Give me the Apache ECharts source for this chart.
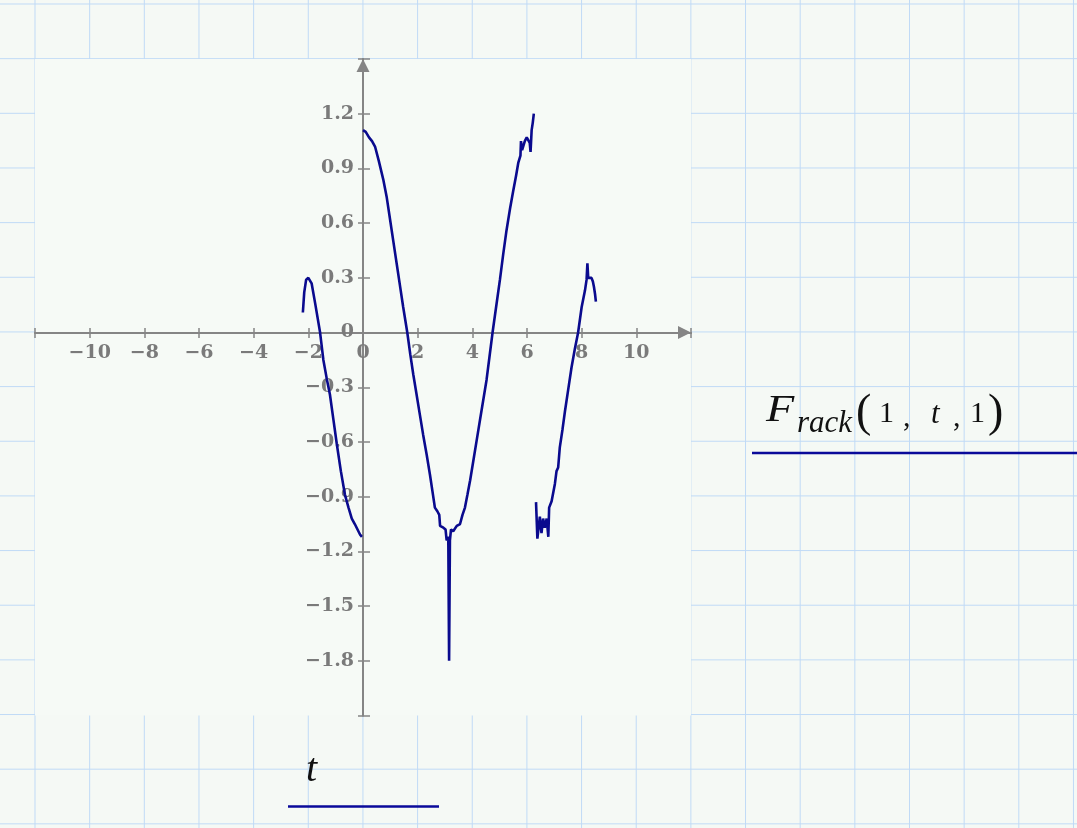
<!DOCTYPE html>
<html><head><meta charset="utf-8">
<script src="https://cdn.jsdelivr.net/npm/echarts@6/dist/echarts.min.js"></script>
<style>
html,body{margin:0;padding:0;background:#f5f9f5;}
#c{width:1077px;height:828px;background-color:#f5f9f5;
background-image:linear-gradient(to right,#c0daf6 1px,transparent 1px),linear-gradient(to bottom,#c0daf6 1px,transparent 1px);
background-size:54.667px 54.667px;background-position:34.5px 3.5px;}
</style></head><body><div id="c"></div>
<script>
// Segment 1 of F_rack(1,t,1)
const seg1T = [-2.20,-2.15,-2.08,-2.00,-1.88,-1.75,-1.57,-1.45,-1.33,-1.21,-1.08,-0.96,-0.81,-0.66,-0.53,-0.41,-0.30,-0.20,-0.10,-0.04];
const seg1V = [0.11,0.22,0.29,0.30,0.27,0.16,0.00,-0.15,-0.25,-0.34,-0.48,-0.61,-0.76,-0.89,-0.96,-1.02,-1.05,-1.08,-1.11,-1.12];
// Segment 2
const seg2T = [0.00,0.10,0.22,0.33,0.44,0.58,0.74,0.87,0.99,1.11,1.23,1.35,1.47,1.62,1.73,1.84,1.96,2.08,2.20,2.33,2.45,2.57,2.63,2.72,2.79,2.82,2.94,3.02,3.06,3.12,3.15,3.16,3.18,3.22,3.30,3.37,3.43,3.55,3.64,3.73,3.82,3.92,4.04,4.16,4.28,4.40,4.52,4.63,4.74,4.87,5.01,5.13,5.25,5.38,5.50,5.60,5.68,5.76,5.78,5.82,5.86,5.92,5.99,6.05,6.10,6.13,6.17,6.21,6.25];
const seg2V = [1.11,1.10,1.07,1.05,1.02,0.94,0.84,0.74,0.62,0.50,0.38,0.26,0.14,0.00,-0.12,-0.23,-0.34,-0.45,-0.56,-0.67,-0.78,-0.90,-0.96,-0.98,-1.00,-1.06,-1.07,-1.08,-1.14,-1.12,-1.80,-1.80,-1.14,-1.08,-1.09,-1.10,-1.06,-1.05,-1.00,-0.96,-0.89,-0.81,-0.70,-0.59,-0.48,-0.37,-0.26,-0.13,0.00,0.14,0.29,0.43,0.56,0.68,0.78,0.86,0.93,0.97,1.05,1.00,0.99,1.05,1.07,1.06,1.04,0.99,1.11,1.15,1.20];
// Segment 3
const seg3T = [6.33,6.38,6.47,6.53,6.59,6.65,6.72,6.78,6.81,6.90,7.02,7.08,7.14,7.20,7.30,7.39,7.51,7.63,7.75,7.87,8.00,8.12,8.18,8.21,8.24,8.30,8.36,8.41,8.45,8.49,8.52];
const seg3V = [-0.93,-1.13,-1.01,-1.10,-1.02,-1.07,-1.02,-1.12,-0.96,-0.925,-0.83,-0.76,-0.74,-0.63,-0.53,-0.43,-0.31,-0.19,-0.09,0.00,0.14,0.23,0.29,0.38,0.30,0.30,0.30,0.28,0.25,0.21,0.17];
// Tick labels
const xTickLabels = [-10,-8,-6,-4,-2,0,2,4,6,8,10];
const yTickLabels = [-1.8,-1.5,-1.2,-0.9,-0.6,-0.3,0,0.3,0.6,0.9,1.2];

const X_MIN = -12, X_MAX = 12, Y_MIN = -2.1, Y_MAX = 1.5;
const PL = 35, PT = 59, PW = 656, PH = 656.5;
const zeroY = PT + PH * Y_MAX / (Y_MAX - Y_MIN);
const zeroX = PL + PW * (0 - X_MIN) / (X_MAX - X_MIN);

const AXIS = '#858585';
const LBL = {fontFamily:'DejaVu Serif', fontSize:19, fontWeight:'bold', color:'#7a7a7a'};
const minus = s => s.replace('-', '\u2212');
function xFmt(v){ const m = xTickLabels.find(l => Math.abs(l - v) < 1e-6); return m === undefined ? '' : minus(String(m)); }
function yFmt(v){ const m = yTickLabels.find(l => Math.abs(l - v) < 1e-6); if (m === undefined) return ''; return m === 0 ? '0' : minus(m.toFixed(1)); }

function xAx(inside){
  return {type:'value', gridIndex:1, min:X_MIN, max:X_MAX, interval:2, position:'bottom',
    axisLine:{show:true, onZero:false, lineStyle:{color:AXIS, width:2}, symbol: inside ? 'none' : ['none','triangle'], symbolSize:[13,13], symbolOffset:[0,-6.5]},
    axisTick:{show:true, inside:inside, length: inside ? 4.5 : 5.5, lineStyle:{color:AXIS, width:1.5}},
    axisLabel:{show:!inside, margin:11, formatter:xFmt, ...LBL},
    splitLine:{show:false}};
}
function yAx(inside){
  return {type:'value', gridIndex:2, min:Y_MIN, max:Y_MAX, interval:0.3, position:'left',
    axisLine:{show:true, onZero:false, lineStyle:{color:AXIS, width:2}, symbol: inside ? 'none' : ['none','triangle'], symbolSize:[13,13], symbolOffset:[0,-6.5]},
    axisTick:{show:true, inside:inside, length: inside ? 7 : 5, lineStyle:{color:AXIS, width:1.5}},
    axisLabel:{show:!inside, margin:9, formatter:yFmt, ...LBL},
    splitLine:{show:false}};
}
const hidden = (dimMin, dimMax, gi) => ({type:'value', gridIndex:gi, min:dimMin, max:dimMax, show:false, axisLine:{onZero:false}});
const mk = (T, V) => T.map((t, i) => [t, V[i]]);
const lineSeries = (name, T, V) => ({name, type:'line', xAxisIndex:0, yAxisIndex:0, data:mk(T, V), showSymbol:false, symbol:'none',
  lineStyle:{color:'#0a0a8e', width:2.6}, z:5, animation:false});

const chart = echarts.init(document.getElementById('c'), null, {renderer:'canvas'});
const txt = (text, x, y, size, italic, extra) => ({type:'text', x, y, z:10, style:Object.assign({text, fontFamily:'Liberation Serif', fontSize:size, fontStyle: italic ? 'italic' : 'normal', fill:'#111', verticalAlign:'middle', align:'left'}, extra||{})});
const gridBase = {outerBoundsMode:'none', containLabel:false, borderWidth:0};
chart.setOption({
  animation:false,
  backgroundColor:'transparent',
  grid:[
    Object.assign({left:PL, top:PT, width:PW, height:PH, show:true, backgroundColor:'#f6faf6'}, gridBase),
    Object.assign({left:PL, top:PT, width:PW, height:zeroY - PT}, gridBase),
    Object.assign({left:zeroX, top:PT, width:PL + PW - zeroX, height:PH}, gridBase)
  ],
  xAxis:[hidden(X_MIN, X_MAX, 0), xAx(false), xAx(true), hidden(0, X_MAX, 2)],
  yAxis:[hidden(Y_MIN, Y_MAX, 0), hidden(0, Y_MAX, 1), yAx(false), yAx(true)],
  series:[lineSeries('s1', seg1T, seg1V), lineSeries('s2', seg2T, seg2V), lineSeries('s3', seg3T, seg3V)],
  graphic:[
    Object.assign(txt('F', 766, 411, 37, true), {scaleX:1.25, originX:0, originY:0}),
    txt('rack', 797, 424, 31, true),
    txt('(', 856, 414, 46, false),
    txt('1', 879, 414, 30, false),
    txt(',', 903, 418, 30, false),
    txt('t', 931, 415, 31, true),
    txt(',', 953, 418, 30, false),
    txt('1', 970, 414, 30, false),
    txt(')', 988, 414, 46, false),
    {type:'line', z:10, shape:{x1:752, y1:453, x2:1077, y2:453}, style:{stroke:'#0a0a9a', lineWidth:2.5}},
    txt('t', 306, 770, 40, true),
    {type:'line', z:10, shape:{x1:288, y1:806.5, x2:439, y2:806.5}, style:{stroke:'#0a0a9a', lineWidth:2.5}}
  ]
});
</script></body></html>
